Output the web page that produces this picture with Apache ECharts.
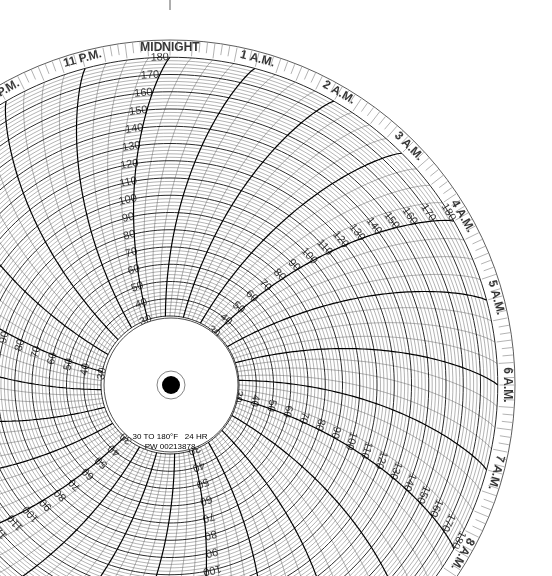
<!DOCTYPE html>
<html><head><meta charset="utf-8">
<script src="https://cdn.jsdelivr.net/npm/echarts@6/dist/echarts.min.js"></script>
<style>html,body{margin:0;padding:0;background:#fff}#c{width:552px;height:576px}</style>
</head><body><div id="c"></div>
<script>
const hourLabels = ['MIDNIGHT','1 A.M.','2 A.M.','3 A.M.','4 A.M.','5 A.M.','6 A.M.','7 A.M.','8 A.M.','9 A.M.','10 A.M.','11 A.M.','NOON','1 P.M.','2 P.M.','3 P.M.','4 P.M.','5 P.M.','6 P.M.','7 P.M.','8 P.M.','9 P.M.','10 P.M.','11 P.M.'];
const scaleMin = 30, scaleMax = 180;
const valueTicks = [30,40,50,60,70,80,90,100,110,120,130,140,150,160,170,180];
const labelHours = [0,4,8,12,16,20];
const hubText = ['30 TO 180°F   24 HR','PW 00213878'];

// pen-arc curvature of the time lines (hours offset at a given value)
function off(v){ const t = Math.max(0, 1 - (v + 10) / 190); return -(23/15) * Math.pow(t, 0.85); }

const minorLines = [], hourLines = [], thinCircles = [], boldCircles = [], ticks = [];
for (let q = 0; q < 96; q++) {
  const h = q / 4, tgt = (q % 4 === 0) ? hourLines : minorLines;
  for (let v = scaleMin; v <= scaleMax; v += 2) tgt.push([v, h + off(v)]);
  tgt.push('-');
}
for (let v = scaleMin; v <= scaleMax; v += 2) {
  const tgt = (v % 10 === 0) ? boldCircles : thinCircles;
  for (let k = 0; k <= 240; k++) tgt.push([v, k * 0.1]);
  tgt.push('-');
}
for (let m = 0; m < 288; m++) {
  const h = m / 12, len = (m % 3 === 0) ? 181 : 183.5;
  ticks.push([len, h], [189.5, h], '-');
}
const hourLabelData = hourLabels.map((t, i) => ({
  value: [185.8, i], label: { formatter: t, rotate: -i * 15 }
}));
const valLabelData = [];
labelHours.forEach(h => valueTicks.forEach(v => {
  const a = h + off(v) - 0.12;
  valLabelData.push({ value: [v, a], label: { formatter: String(v), rotate: -a * 15 } });
}));

const chart = echarts.init(document.getElementById('c'));
const line = (data, w, c) => ({ type: 'line', coordinateSystem: 'polar', data, symbol: 'none',
  clip: false, silent: true, animation: false, lineStyle: { width: w, color: c } });
chart.setOption({
  backgroundColor: '#fff',
  polar: { center: [170, 385], radius: 345 },
  angleAxis: { type: 'value', min: 0, max: 24, startAngle: 90, clockwise: true, show: false },
  radiusAxis: { type: 'value', min: -10, max: 190, show: false },
  series: [
    line(thinCircles, 0.45, '#555'),
    line(minorLines, 0.45, '#555'),
    line(boldCircles, 0.9, '#111'),
    line(hourLines, 1.2, '#000'),
    line(ticks, 0.5, '#666'),
    { type: 'scatter', coordinateSystem: 'polar', symbolSize: 0, clip: false, animation: false, silent: true,
      data: valLabelData,
      label: { show: true, position: 'inside', color: '#000', fontSize: 11, fontFamily: 'Liberation Sans',
        backgroundColor: '#fff', padding: [0, 1] } },
    { type: 'scatter', coordinateSystem: 'polar', symbolSize: 0, clip: false, animation: false, silent: true,
      data: hourLabelData,
      label: { show: true, position: 'inside', color: '#000', fontSize: 12, fontWeight: 'bold',
        fontFamily: 'Liberation Sans', backgroundColor: '#fff', padding: [0, 2] } }
  ],
  graphic: [
    { type: 'circle', z: 100, shape: { cx: 170, cy: 385, r: 345 }, style: { fill: 'none', stroke: '#333', lineWidth: 0.8 } },
    { type: 'circle', z: 100, shape: { cx: 171, cy: 385, r: 67 }, style: { fill: '#fff', stroke: '#222', lineWidth: 0.8 } },
    { type: 'circle', z: 101, shape: { cx: 171, cy: 385, r: 14 }, style: { fill: '#fff', stroke: '#333', lineWidth: 0.6 } },
    { type: 'circle', z: 102, shape: { cx: 171, cy: 385, r: 9 }, style: { fill: '#000' } },
    { type: 'line', z: 100, shape: { x1: 170, y1: 0, x2: 170, y2: 10 }, style: { stroke: '#333', lineWidth: 0.8 } },
    { type: 'text', z: 103, x: 170, y: 437, style: { text: hubText[0], fill: '#000', font: '8px Liberation Sans', align: 'center', verticalAlign: 'middle' } },
    { type: 'text', z: 103, x: 170, y: 447, style: { text: hubText[1], fill: '#000', font: '8px Liberation Sans', align: 'center', verticalAlign: 'middle' } }
  ]
});
</script></body></html>
